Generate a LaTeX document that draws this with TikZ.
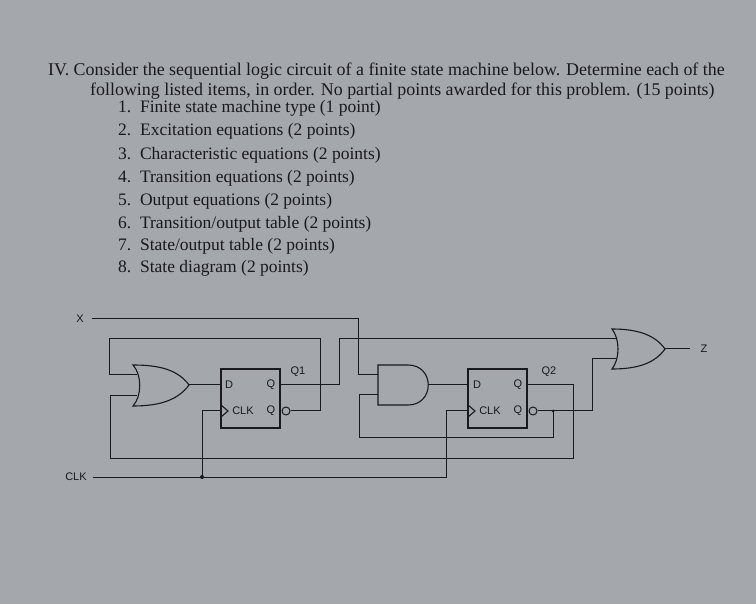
\documentclass[tikz,border=0pt]{standalone}
\usepackage{fontspec}
\setmainfont{Liberation Serif}
\setsansfont{Liberation Sans}
\definecolor{paper}{RGB}{164,167,172}
\definecolor{ink}{RGB}{25,25,30}
\begin{document}
\begin{tikzpicture}[x=1pt,y=-1pt,
  txt/.style={anchor=base west,inner sep=0,text=ink,font=\fontsize{17.9}{20}\selectfont},
  itm/.style={anchor=base west,inner sep=0,text=ink,font=\fontsize{17.5}{19}\selectfont},
  lbl/.style={inner sep=0,text=ink,font=\sffamily\fontsize{11}{12}\selectfont},
  wire/.style={draw=ink,line width=1pt},
  gate/.style={draw=ink,line width=1.1pt},
  ff/.style={draw=ink,line width=1.1pt},
  dot/.style={circle,fill=ink,inner sep=0,minimum size=4pt}]
\fill[paper] (0,0) rectangle (756,604);
\useasboundingbox (0,0) rectangle (756,604);
% text
\node[txt] (t1) at (48,76) {IV. Consider the sequential logic circuit of a finite state machine below. Determine each of the};
\node[txt] (t2) at (90,96) {following listed items, in order. No partial points awarded for this problem. (15 points)};
\node[itm] (i1) at (118,113) {1.\ \ Finite state machine type (1 point)};
\node[itm] (i2) at (118,136) {2.\ \ Excitation equations (2 points)};
\node[itm] (i3) at (118,160) {3.\ \ Characteristic equations (2 points)};
\node[itm] (i4) at (118,183) {4.\ \ Transition equations (2 points)};
\node[itm] (i5) at (118,206) {5.\ \ Output equations (2 points)};
\node[itm] (i6) at (118,229) {6.\ \ Transition/output table (2 points)};
\node[itm] (i7) at (118,251) {7.\ \ State/output table (2 points)};
\node[itm] (i8) at (118,273) {8.\ \ State diagram (2 points)};
% labels
\node[lbl] (X) at (80,319) {X};
\node[lbl] (CLK) at (76,477) {CLK};
\node[lbl] (Z) at (704,349) {Z};
\node[lbl] (q1l) at (298,372) {Q1};
\node[lbl] (q2l) at (549,372) {Q2};
% gates: OR1
\draw[gate] (133,365) .. controls (142,375) and (142,396) .. (133,406)
  .. controls (160,406) and (178,400) .. (189,385)
  .. controls (178,370) and (160,365) .. (133,365) -- cycle;
\coordinate (or1a) at (137,375); \coordinate (or1b) at (137,396); \coordinate (or1o) at (189,385);
% AND2
\draw[gate] (378,365) -- (408,365) .. controls (435,365) and (435,405) .. (408,405) -- (378,405) -- cycle;
\coordinate (an2a) at (378,375); \coordinate (an2b) at (378,395); \coordinate (an2o) at (428,385);
% OR2
\draw[gate] (612,329) .. controls (620,339) and (620,359) .. (612,369)
  .. controls (638,369) and (655,363) .. (665,349)
  .. controls (655,335) and (638,329) .. (612,329) -- cycle;
\coordinate (or2a) at (616,339); \coordinate (or2b) at (616,359); \coordinate (or2o) at (665,349);
% FF1
\draw[ff] (221,369) rectangle (280,428);
\node[lbl] (d1) at (229,385) {D};
\node[lbl] (q1) at (271,385) {Q};
\node[lbl] (c1) at (243,411) {CLK};
\node[lbl] (qb1) at (271,411) {Q};
\draw[ff] (221,405) -- (228,411) -- (221,417);
\node[circle,draw=ink,line width=1pt,inner sep=0,minimum size=8pt] (b1) at (286,411) {};
% FF2
\draw[ff] (468,369) rectangle (527,428);
\node[lbl] (d2) at (477,385) {D};
\node[lbl] (q2) at (518,385) {Q};
\node[lbl] (c2) at (490,411) {CLK};
\node[lbl] (qb2) at (518,411) {Q};
\draw[ff] (468,405) -- (475,411) -- (468,417);
\node[circle,draw=ink,line width=1pt,inner sep=0,minimum size=8pt] (b2) at (533,411) {};
% wires
\coordinate (ff1d) at (221,385); \coordinate (ff1q) at (280,385); \coordinate (ff1c) at (221,411);
\coordinate (ff2d) at (468,385); \coordinate (ff2q) at (527,385); \coordinate (ff2c) at (468,411);
\draw[wire] (X.east) ++(8,0) -- (358,319) |- (an2a);
\draw[wire] (or1o) -- (ff1d);
\draw[wire] (an2o) -- (ff2d);
\draw[wire] (or2o) -- (690,349);
\draw[wire] (b1.east) -- (320,411) |- (109,339) |- (or1a);
\draw[wire] (or1b) -- (110,396) |- (573,458) |- (ff2q);
\draw[wire] (ff1q) -- (339,385) |- (or2a);
\draw[wire] (b2.east) -- (592,411) |- (or2b);
\draw[wire] (an2b) -- (359,395) |- (553,437) -- (553,411);
\draw[wire] (CLK.east) ++(6,0) -- (446,477) |- (ff2c);
\draw[wire] (202,477) |- (ff1c);
\node[dot] (j1) at (202,477) {};
\node[dot,minimum size=3pt] (j2) at (553,411) {};
\end{tikzpicture}
\end{document}
